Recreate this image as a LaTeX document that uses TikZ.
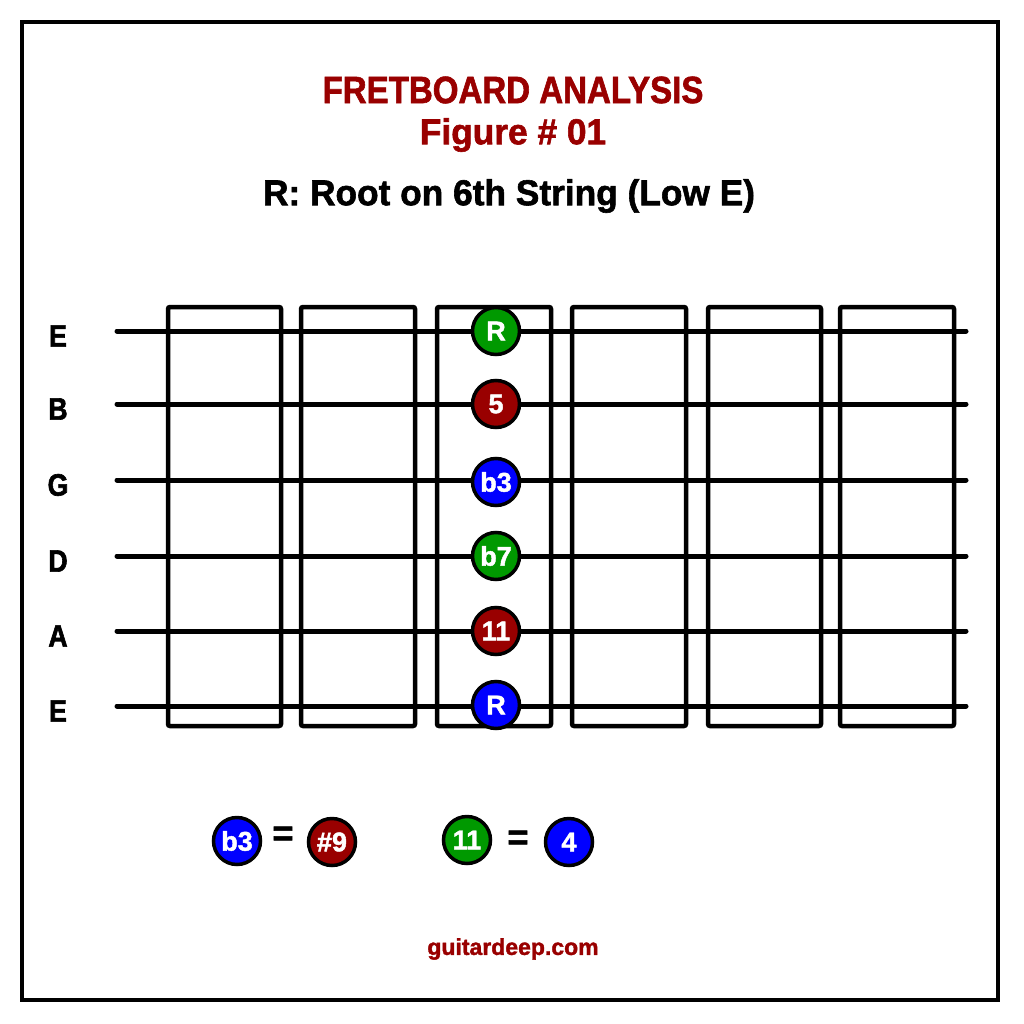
\documentclass[tikz,border=0pt]{standalone}
\usepackage{fontspec}
\setmainfont{Liberation Sans}[BoldFeatures={FakeBold=1.6}]
\newfontfamily\titlefont[FakeStretch=0.87,BoldFeatures={FakeBold=1.6}]{Liberation Sans}
\newfontfamily\figfont[FakeStretch=0.98,BoldFeatures={FakeBold=1.6}]{Liberation Sans}
\newfontfamily\subfont[FakeStretch=0.98,BoldFeatures={FakeBold=1.6}]{Liberation Sans}
\newfontfamily\narrowfont[FakeStretch=0.86,BoldFeatures={FakeBold=2}]{Liberation Sans}
\usetikzlibrary{positioning}
\definecolor{darkred}{HTML}{990000}
\definecolor{notegreen}{HTML}{009900}
\definecolor{noteblue}{HTML}{0000FF}
\newcommand{\Fret}[2]{
  \draw[fretline] (#1,307) rectangle (#2,726);
}
\tikzset{
  fretline/.style={line width=4.5pt,rounded corners=2pt},
  stringline/.style={line width=5pt,line cap=round},
  note/.style={circle,draw=black,line width=3.5pt,minimum size=47pt,inner sep=0pt,
    text=white,font=\bfseries\fontsize{27}{27}\selectfont},
  stringname/.style={font=\narrowfont\bfseries\fontsize{31}{31}\selectfont},
  equals/.style={font=\bfseries\fontsize{36}{36}\selectfont},
}

\begin{document}
\begin{tikzpicture}[x=1pt,y=-1pt]
  \useasboundingbox (0,0) rectangle (1024,1024);
  \draw[line width=4pt] (22,22) rectangle (998,1000);
  % titles
  \node[text=darkred,font=\titlefont\bfseries\fontsize{38}{38}\selectfont] (title) at (513,90) {FRETBOARD ANALYSIS};
  \node[text=darkred,font=\figfont\bfseries\fontsize{36}{36}\selectfont] (fig) at (513,135) {Figure \# 01};
  \node[font=\subfont\bfseries\fontsize{36}{36}\selectfont] (sub) at (509,196) {R: Root on 6th String (Low E)};
  % frets
  \Fret{168}{281}
  \Fret{301}{415}
  \Fret{437}{551}
  \Fret{572}{686}
  \Fret{708}{821}
  \Fret{840}{954}
  % strings
  \foreach \y/\name/\n in {331/E/s1,404/B/s2,480/G/s3,556/D/s4,631/A/s5,706/E/s6}{
    \node[stringname] (\n) at (58,\y+5) {\name};
    \coordinate (\n a) at (117,\y);
    \coordinate (\n b) at (966,\y);
    \draw[stringline] (\n a) -- (\n b);
  }
  % notes
  \node[note,fill=notegreen] (n1) at (496,331) {R};
  \node[note,fill=darkred] (n2) at (496,404) {5};
  \node[note,fill=noteblue] (n3) at (496,482) {b3};
  \node[note,fill=notegreen] (n4) at (496,556) {b7};
  \node[note,fill=darkred] (n5) at (496,631) {11};
  \node[note,fill=noteblue] (n6) at (496,705) {R};
  % legend
  \node[note,fill=noteblue] (k1) at (237,841) {b3};
  \node[equals] (eq1) at (283,836) {=};
  \node[note,fill=darkred] (k2) at (332,842) {\#9};
  \node[note,fill=notegreen] (k3) at (467,840) {11};
  \node[equals] (eq2) at (518,840) {=};
  \node[note,fill=noteblue] (k4) at (569,842) {4};
  \node[text=darkred,font=\bfseries\fontsize{23}{23}\selectfont] (site) at (513,949) {guitardeep.com};
\end{tikzpicture}
\end{document}
